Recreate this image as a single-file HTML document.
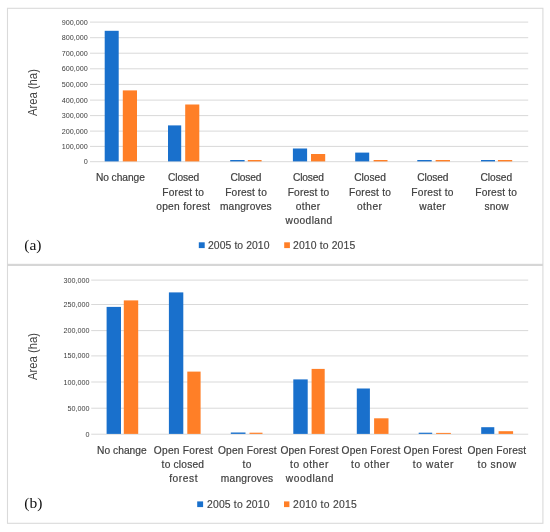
<!DOCTYPE html>
<html lang="en"><head><meta charset="utf-8"><title>Forest change area charts</title>
<style>html,body{margin:0;padding:0;background:#fff;}svg{display:block;}.cat{font-family:"Liberation Sans",sans-serif;font-size:10.2px;fill:#404040;stroke:#404040;stroke-width:0.2px;}.yl{font-family:"Liberation Sans",sans-serif;font-size:7.2px;fill:#3c3c3c;}.ax{font-family:"Liberation Sans",sans-serif;font-size:13px;fill:#444;}.lg{font-family:"Liberation Sans",sans-serif;font-size:10.4px;fill:#444;stroke:#444;stroke-width:0.15px;}.pn{font-family:"Liberation Serif",serif;font-size:15.5px;fill:#111;}</style></head><body>
<svg width="550" height="532" viewBox="0 0 550 532">
<rect x="0" y="0" width="550" height="532" fill="#ffffff"/>
<rect x="7.5" y="8.3" width="535.4" height="515" fill="none" stroke="#dadada" stroke-width="1.1"/>
<rect x="7" y="263.8" width="536" height="2.2" fill="#d6d6d6"/>
<rect x="90.0" y="21.60" width="438.2" height="1" fill="#d9d9d9"/>
<text class="yl" x="87.8" y="24.6" text-anchor="end">900,000</text>
<rect x="90.0" y="37.20" width="438.2" height="1" fill="#d9d9d9"/>
<text class="yl" x="87.8" y="40.2" text-anchor="end">800,000</text>
<rect x="90.0" y="52.70" width="438.2" height="1" fill="#d9d9d9"/>
<text class="yl" x="87.8" y="55.7" text-anchor="end">700,000</text>
<rect x="90.0" y="68.30" width="438.2" height="1" fill="#d9d9d9"/>
<text class="yl" x="87.8" y="71.3" text-anchor="end">600,000</text>
<rect x="90.0" y="83.90" width="438.2" height="1" fill="#d9d9d9"/>
<text class="yl" x="87.8" y="86.9" text-anchor="end">500,000</text>
<rect x="90.0" y="99.60" width="438.2" height="1" fill="#d9d9d9"/>
<text class="yl" x="87.8" y="102.6" text-anchor="end">400,000</text>
<rect x="90.0" y="115.10" width="438.2" height="1" fill="#d9d9d9"/>
<text class="yl" x="87.8" y="118.1" text-anchor="end">300,000</text>
<rect x="90.0" y="130.60" width="438.2" height="1" fill="#d9d9d9"/>
<text class="yl" x="87.8" y="133.6" text-anchor="end">200,000</text>
<rect x="90.0" y="145.90" width="438.2" height="1" fill="#d9d9d9"/>
<text class="yl" x="87.8" y="148.9" text-anchor="end">100,000</text>
<rect x="90.0" y="161.20" width="438.2" height="1" fill="#d9d9d9"/>
<text class="yl" x="87.8" y="164.2" text-anchor="end">0</text>
<rect x="104.7" y="30.8" width="14.0" height="130.6" fill="#1970cc"/>
<rect x="122.8" y="90.4" width="14.2" height="71.0" fill="#ff7f27"/>
<rect x="168.0" y="125.4" width="13.2" height="36.0" fill="#1970cc"/>
<rect x="185.2" y="104.5" width="14.1" height="56.9" fill="#ff7f27"/>
<rect x="230.2" y="160.0" width="14.4" height="1.4" fill="#1970cc"/>
<rect x="247.8" y="160.0" width="13.8" height="1.4" fill="#ff7f27"/>
<rect x="292.9" y="148.5" width="14.2" height="12.9" fill="#1970cc"/>
<rect x="311.0" y="154.0" width="14.2" height="7.4" fill="#ff7f27"/>
<rect x="355.2" y="152.6" width="14.0" height="8.8" fill="#1970cc"/>
<rect x="373.6" y="160.0" width="13.9" height="1.4" fill="#ff7f27"/>
<rect x="417.3" y="160.0" width="14.4" height="1.4" fill="#1970cc"/>
<rect x="435.6" y="160.0" width="14.4" height="1.4" fill="#ff7f27"/>
<rect x="481.0" y="160.0" width="14.0" height="1.4" fill="#1970cc"/>
<rect x="497.9" y="160.0" width="14.3" height="1.4" fill="#ff7f27"/>
<text class="cat" x="95.9" y="181.3" textLength="48.9" lengthAdjust="spacing">No change</text>
<text class="cat" x="168.0" y="181.3" textLength="31.2" lengthAdjust="spacing">Closed</text>
<text class="cat" x="162.3" y="195.6" textLength="41.7" lengthAdjust="spacing">Forest to</text>
<text class="cat" x="156.2" y="209.8" textLength="53.9" lengthAdjust="spacing">open forest</text>
<text class="cat" x="230.4" y="181.3" textLength="31.1" lengthAdjust="spacing">Closed</text>
<text class="cat" x="225.2" y="195.6" textLength="41.6" lengthAdjust="spacing">Forest to</text>
<text class="cat" x="219.9" y="209.8" textLength="51.8" lengthAdjust="spacing">mangroves</text>
<text class="cat" x="292.9" y="181.3" textLength="31.1" lengthAdjust="spacing">Closed</text>
<text class="cat" x="287.7" y="195.6" textLength="41.5" lengthAdjust="spacing">Forest to</text>
<text class="cat" x="295.8" y="209.8" textLength="24.4" lengthAdjust="spacing">other</text>
<text class="cat" x="285.6" y="224.1" textLength="46.6" lengthAdjust="spacing">woodland</text>
<text class="cat" x="354.3" y="181.3" textLength="31.5" lengthAdjust="spacing">Closed</text>
<text class="cat" x="349.0" y="195.6" textLength="41.9" lengthAdjust="spacing">Forest to</text>
<text class="cat" x="356.9" y="209.8" textLength="25.1" lengthAdjust="spacing">other</text>
<text class="cat" x="417.2" y="181.3" textLength="31.3" lengthAdjust="spacing">Closed</text>
<text class="cat" x="411.3" y="195.6" textLength="42.2" lengthAdjust="spacing">Forest to</text>
<text class="cat" x="419.2" y="209.8" textLength="26.4" lengthAdjust="spacing">water</text>
<text class="cat" x="480.5" y="181.3" textLength="31.7" lengthAdjust="spacing">Closed</text>
<text class="cat" x="475.3" y="195.6" textLength="41.6" lengthAdjust="spacing">Forest to</text>
<text class="cat" x="484.6" y="209.8" textLength="24.1" lengthAdjust="spacing">snow</text>
<text class="ax" transform="translate(36.5,92.6) rotate(-90)" text-anchor="middle" textLength="47.0" lengthAdjust="spacingAndGlyphs">Area (ha)</text>
<rect x="198.8" y="242.3" width="5.9" height="5.8" fill="#1970cc"/>
<text class="lg" x="208" y="249" textLength="61.5" lengthAdjust="spacing">2005 to 2010</text>
<rect x="284.2" y="242.3" width="5.7" height="5.8" fill="#ff7f27"/>
<text class="lg" x="293" y="249" textLength="62.2" lengthAdjust="spacing">2010 to 2015</text>
<text class="pn" x="24.3" y="249.6">(a)</text>
<rect x="91.2" y="279.60" width="437.0" height="1" fill="#d9d9d9"/>
<text class="yl" x="89.6" y="282.6" text-anchor="end">300,000</text>
<rect x="91.2" y="304.00" width="437.0" height="1" fill="#d9d9d9"/>
<text class="yl" x="89.6" y="307.0" text-anchor="end">250,000</text>
<rect x="91.2" y="330.10" width="437.0" height="1" fill="#d9d9d9"/>
<text class="yl" x="89.6" y="333.1" text-anchor="end">200,000</text>
<rect x="91.2" y="355.40" width="437.0" height="1" fill="#d9d9d9"/>
<text class="yl" x="89.6" y="358.4" text-anchor="end">150,000</text>
<rect x="91.2" y="381.50" width="437.0" height="1" fill="#d9d9d9"/>
<text class="yl" x="89.6" y="384.5" text-anchor="end">100,000</text>
<rect x="91.2" y="407.70" width="437.0" height="1" fill="#d9d9d9"/>
<text class="yl" x="89.6" y="410.7" text-anchor="end">50,000</text>
<rect x="91.2" y="433.70" width="437.0" height="1" fill="#d9d9d9"/>
<text class="yl" x="89.6" y="436.7" text-anchor="end">0</text>
<rect x="106.6" y="306.9" width="14.4" height="127.0" fill="#1970cc"/>
<rect x="123.8" y="300.4" width="14.4" height="133.5" fill="#ff7f27"/>
<rect x="168.9" y="292.4" width="14.4" height="141.5" fill="#1970cc"/>
<rect x="187.3" y="371.6" width="13.3" height="62.3" fill="#ff7f27"/>
<rect x="230.8" y="432.5" width="14.7" height="1.4" fill="#1970cc"/>
<rect x="249.5" y="432.7" width="13.0" height="1.2" fill="#ff7f27"/>
<rect x="293.3" y="379.4" width="14.4" height="54.5" fill="#1970cc"/>
<rect x="311.6" y="368.9" width="13.1" height="65.0" fill="#ff7f27"/>
<rect x="356.8" y="388.5" width="13.1" height="45.4" fill="#1970cc"/>
<rect x="374.1" y="418.3" width="14.4" height="15.6" fill="#ff7f27"/>
<rect x="418.7" y="432.7" width="13.5" height="1.2" fill="#1970cc"/>
<rect x="436.1" y="432.9" width="14.8" height="1.0" fill="#ff7f27"/>
<rect x="481.2" y="427.2" width="13.1" height="6.7" fill="#1970cc"/>
<rect x="498.6" y="431.2" width="14.5" height="2.7" fill="#ff7f27"/>
<text class="cat" x="97.1" y="453.6" textLength="49.6" lengthAdjust="spacing">No change</text>
<text class="cat" x="153.8" y="453.6" textLength="59.1" lengthAdjust="spacing">Open Forest</text>
<text class="cat" x="161.6" y="468.0" textLength="42.4" lengthAdjust="spacing">to closed</text>
<text class="cat" x="169.2" y="482.4" textLength="28.4" lengthAdjust="spacing">forest</text>
<text class="cat" x="217.9" y="453.6" textLength="58.8" lengthAdjust="spacing">Open Forest</text>
<text class="cat" x="242.6" y="468.0" textLength="8.8" lengthAdjust="spacing">to</text>
<text class="cat" x="220.8" y="482.4" textLength="52.4" lengthAdjust="spacing">mangroves</text>
<text class="cat" x="280.4" y="453.6" textLength="58.2" lengthAdjust="spacing">Open Forest</text>
<text class="cat" x="290.0" y="468.0" textLength="38.4" lengthAdjust="spacing">to other</text>
<text class="cat" x="285.7" y="482.4" textLength="47.7" lengthAdjust="spacing">woodland</text>
<text class="cat" x="341.5" y="453.6" textLength="58.8" lengthAdjust="spacing">Open Forest</text>
<text class="cat" x="351.0" y="468.0" textLength="38.5" lengthAdjust="spacing">to other</text>
<text class="cat" x="403.5" y="453.6" textLength="58.7" lengthAdjust="spacing">Open Forest</text>
<text class="cat" x="412.8" y="468.0" textLength="40.7" lengthAdjust="spacing">to water</text>
<text class="cat" x="467.4" y="453.6" textLength="58.8" lengthAdjust="spacing">Open Forest</text>
<text class="cat" x="477.6" y="468.0" textLength="38.4" lengthAdjust="spacing">to snow</text>
<text class="ax" transform="translate(36.9,356.5) rotate(-90)" text-anchor="middle" textLength="47.0" lengthAdjust="spacingAndGlyphs">Area (ha)</text>
<rect x="197.2" y="501.4" width="5.9" height="5.7" fill="#1970cc"/>
<text class="lg" x="207" y="508" textLength="62.5" lengthAdjust="spacing">2005 to 2010</text>
<rect x="284" y="501.4" width="5.4" height="5.7" fill="#ff7f27"/>
<text class="lg" x="293.1" y="508" textLength="63.8" lengthAdjust="spacing">2010 to 2015</text>
<text class="pn" x="24.3" y="508.4">(b)</text>
</svg></body></html>
